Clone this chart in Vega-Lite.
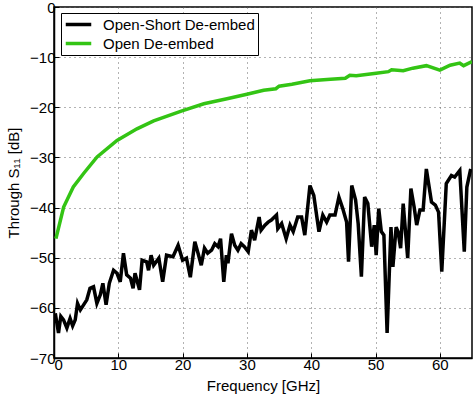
{
  "$schema": "https://vega.github.io/schema/vega-lite/v6.json",
  "width": 418,
  "height": 351,
  "autosize": {"type": "none"},
  "padding": {"left": 54, "top": 7, "right": 2, "bottom": 41},
  "background": "white",
  "config": {
    "font": "Liberation Sans",
    "view": {"stroke": "black", "strokeWidth": 1.5},
    "axis": {
      "grid": true, "gridColor": "#666", "gridDash": [1, 4], "gridWidth": 1,
      "domainColor": "black", "domainWidth": 1.5,
      "tickColor": "black", "tickSize": -5,
      "labelColor": "black", "labelFontSize": 15, "titleColor": "black",
      "titleFontSize": 15, "titleFontWeight": "normal"
    }
  },
  "datasets": {
    "pts": [
      {"f": 0.3, "s": -46.2, "series": "Open De-embed"},
      {"f": 1.5, "s": -39.9, "series": "Open De-embed"},
      {"f": 3.0, "s": -35.9, "series": "Open De-embed"},
      {"f": 4.6, "s": -33.2, "series": "Open De-embed"},
      {"f": 6.7, "s": -29.9, "series": "Open De-embed"},
      {"f": 9.8, "s": -26.6, "series": "Open De-embed"},
      {"f": 12.9, "s": -24.3, "series": "Open De-embed"},
      {"f": 15.5, "s": -22.7, "series": "Open De-embed"},
      {"f": 19.9, "s": -20.7, "series": "Open De-embed"},
      {"f": 23.3, "s": -19.3, "series": "Open De-embed"},
      {"f": 26.9, "s": -18.3, "series": "Open De-embed"},
      {"f": 30.0, "s": -17.4, "series": "Open De-embed"},
      {"f": 32.6, "s": -16.6, "series": "Open De-embed"},
      {"f": 34.5, "s": -16.3, "series": "Open De-embed"},
      {"f": 35.0, "s": -15.8, "series": "Open De-embed"},
      {"f": 37.0, "s": -15.4, "series": "Open De-embed"},
      {"f": 39.8, "s": -14.7, "series": "Open De-embed"},
      {"f": 43.0, "s": -14.4, "series": "Open De-embed"},
      {"f": 45.3, "s": -14.2, "series": "Open De-embed"},
      {"f": 46.0, "s": -13.6, "series": "Open De-embed"},
      {"f": 47.0, "s": -13.7, "series": "Open De-embed"},
      {"f": 50.1, "s": -13.2, "series": "Open De-embed"},
      {"f": 52.0, "s": -12.9, "series": "Open De-embed"},
      {"f": 52.5, "s": -12.5, "series": "Open De-embed"},
      {"f": 54.3, "s": -12.7, "series": "Open De-embed"},
      {"f": 55.8, "s": -12.2, "series": "Open De-embed"},
      {"f": 57.9, "s": -11.7, "series": "Open De-embed"},
      {"f": 60.0, "s": -12.6, "series": "Open De-embed"},
      {"f": 61.6, "s": -11.6, "series": "Open De-embed"},
      {"f": 63.1, "s": -11.2, "series": "Open De-embed"},
      {"f": 63.7, "s": -11.7, "series": "Open De-embed"},
      {"f": 65.0, "s": -10.9, "series": "Open De-embed"},

      {"f": 0.2, "s": -61.1, "series": "Open-Short De-embed"},
      {"f": 0.7, "s": -65.0, "series": "Open-Short De-embed"},
      {"f": 1.06, "s": -61.7, "series": "Open-Short De-embed"},
      {"f": 1.48, "s": -62.4, "series": "Open-Short De-embed"},
      {"f": 2.0, "s": -64.0, "series": "Open-Short De-embed"},
      {"f": 2.5, "s": -62.1, "series": "Open-Short De-embed"},
      {"f": 2.9, "s": -63.6, "series": "Open-Short De-embed"},
      {"f": 3.3, "s": -62.4, "series": "Open-Short De-embed"},
      {"f": 3.66, "s": -59.1, "series": "Open-Short De-embed"},
      {"f": 4.1, "s": -60.4, "series": "Open-Short De-embed"},
      {"f": 4.6, "s": -59.4, "series": "Open-Short De-embed"},
      {"f": 5.1, "s": -58.4, "series": "Open-Short De-embed"},
      {"f": 5.6, "s": -56.1, "series": "Open-Short De-embed"},
      {"f": 6.15, "s": -55.8, "series": "Open-Short De-embed"},
      {"f": 6.67, "s": -59.1, "series": "Open-Short De-embed"},
      {"f": 7.2, "s": -57.4, "series": "Open-Short De-embed"},
      {"f": 7.6, "s": -55.1, "series": "Open-Short De-embed"},
      {"f": 8.1, "s": -59.4, "series": "Open-Short De-embed"},
      {"f": 8.6, "s": -55.1, "series": "Open-Short De-embed"},
      {"f": 9.26, "s": -52.5, "series": "Open-Short De-embed"},
      {"f": 9.8, "s": -53.1, "series": "Open-Short De-embed"},
      {"f": 10.3, "s": -54.8, "series": "Open-Short De-embed"},
      {"f": 10.8, "s": -49.1, "series": "Open-Short De-embed"},
      {"f": 11.3, "s": -53.4, "series": "Open-Short De-embed"},
      {"f": 11.9, "s": -54.1, "series": "Open-Short De-embed"},
      {"f": 12.3, "s": -56.1, "series": "Open-Short De-embed"},
      {"f": 12.6, "s": -53.1, "series": "Open-Short De-embed"},
      {"f": 13.3, "s": -56.4, "series": "Open-Short De-embed"},
      {"f": 13.7, "s": -50.5, "series": "Open-Short De-embed"},
      {"f": 14.4, "s": -50.8, "series": "Open-Short De-embed"},
      {"f": 14.7, "s": -52.5, "series": "Open-Short De-embed"},
      {"f": 15.1, "s": -49.5, "series": "Open-Short De-embed"},
      {"f": 15.5, "s": -51.5, "series": "Open-Short De-embed"},
      {"f": 16.3, "s": -50.1, "series": "Open-Short De-embed"},
      {"f": 16.9, "s": -54.8, "series": "Open-Short De-embed"},
      {"f": 17.5, "s": -49.5, "series": "Open-Short De-embed"},
      {"f": 18.5, "s": -49.8, "series": "Open-Short De-embed"},
      {"f": 19.3, "s": -47.5, "series": "Open-Short De-embed"},
      {"f": 20.0, "s": -50.5, "series": "Open-Short De-embed"},
      {"f": 20.6, "s": -50.1, "series": "Open-Short De-embed"},
      {"f": 21.2, "s": -53.9, "series": "Open-Short De-embed"},
      {"f": 21.9, "s": -46.8, "series": "Open-Short De-embed"},
      {"f": 22.4, "s": -49.1, "series": "Open-Short De-embed"},
      {"f": 22.9, "s": -51.5, "series": "Open-Short De-embed"},
      {"f": 23.4, "s": -48.1, "series": "Open-Short De-embed"},
      {"f": 23.9, "s": -49.1, "series": "Open-Short De-embed"},
      {"f": 24.5, "s": -48.5, "series": "Open-Short De-embed"},
      {"f": 25.0, "s": -47.2, "series": "Open-Short De-embed"},
      {"f": 25.5, "s": -47.8, "series": "Open-Short De-embed"},
      {"f": 25.9, "s": -46.2, "series": "Open-Short De-embed"},
      {"f": 26.4, "s": -54.8, "series": "Open-Short De-embed"},
      {"f": 26.8, "s": -49.5, "series": "Open-Short De-embed"},
      {"f": 27.05, "s": -51.1, "series": "Open-Short De-embed"},
      {"f": 27.6, "s": -45.2, "series": "Open-Short De-embed"},
      {"f": 28.1, "s": -47.5, "series": "Open-Short De-embed"},
      {"f": 28.6, "s": -48.5, "series": "Open-Short De-embed"},
      {"f": 29.1, "s": -47.2, "series": "Open-Short De-embed"},
      {"f": 29.6, "s": -47.8, "series": "Open-Short De-embed"},
      {"f": 30.2, "s": -48.8, "series": "Open-Short De-embed"},
      {"f": 30.7, "s": -44.5, "series": "Open-Short De-embed"},
      {"f": 31.2, "s": -46.5, "series": "Open-Short De-embed"},
      {"f": 31.9, "s": -41.9, "series": "Open-Short De-embed"},
      {"f": 32.2, "s": -44.5, "series": "Open-Short De-embed"},
      {"f": 32.8, "s": -43.5, "series": "Open-Short De-embed"},
      {"f": 33.3, "s": -42.9, "series": "Open-Short De-embed"},
      {"f": 33.8, "s": -42.5, "series": "Open-Short De-embed"},
      {"f": 34.6, "s": -41.5, "series": "Open-Short De-embed"},
      {"f": 34.8, "s": -44.2, "series": "Open-Short De-embed"},
      {"f": 35.4, "s": -43.2, "series": "Open-Short De-embed"},
      {"f": 36.1, "s": -46.2, "series": "Open-Short De-embed"},
      {"f": 36.7, "s": -43.5, "series": "Open-Short De-embed"},
      {"f": 37.2, "s": -44.8, "series": "Open-Short De-embed"},
      {"f": 37.9, "s": -41.9, "series": "Open-Short De-embed"},
      {"f": 38.5, "s": -41.9, "series": "Open-Short De-embed"},
      {"f": 39.0, "s": -45.5, "series": "Open-Short De-embed"},
      {"f": 39.8, "s": -35.6, "series": "Open-Short De-embed"},
      {"f": 40.4, "s": -37.6, "series": "Open-Short De-embed"},
      {"f": 41.2, "s": -44.8, "series": "Open-Short De-embed"},
      {"f": 41.8, "s": -41.5, "series": "Open-Short De-embed"},
      {"f": 42.4, "s": -42.9, "series": "Open-Short De-embed"},
      {"f": 42.9, "s": -41.5, "series": "Open-Short De-embed"},
      {"f": 43.7, "s": -41.5, "series": "Open-Short De-embed"},
      {"f": 44.3, "s": -37.9, "series": "Open-Short De-embed"},
      {"f": 44.9, "s": -40.2, "series": "Open-Short De-embed"},
      {"f": 45.5, "s": -42.9, "series": "Open-Short De-embed"},
      {"f": 45.8, "s": -50.8, "series": "Open-Short De-embed"},
      {"f": 46.3, "s": -35.6, "series": "Open-Short De-embed"},
      {"f": 46.9, "s": -38.5, "series": "Open-Short De-embed"},
      {"f": 47.3, "s": -43.2, "series": "Open-Short De-embed"},
      {"f": 47.8, "s": -53.8, "series": "Open-Short De-embed"},
      {"f": 48.3, "s": -37.9, "series": "Open-Short De-embed"},
      {"f": 48.8, "s": -39.2, "series": "Open-Short De-embed"},
      {"f": 49.4, "s": -47.8, "series": "Open-Short De-embed"},
      {"f": 49.8, "s": -43.5, "series": "Open-Short De-embed"},
      {"f": 50.1, "s": -49.5, "series": "Open-Short De-embed"},
      {"f": 50.5, "s": -40.2, "series": "Open-Short De-embed"},
      {"f": 50.9, "s": -44.8, "series": "Open-Short De-embed"},
      {"f": 51.3, "s": -45.5, "series": "Open-Short De-embed"},
      {"f": 51.8, "s": -65.0, "series": "Open-Short De-embed"},
      {"f": 52.4, "s": -43.9, "series": "Open-Short De-embed"},
      {"f": 52.7, "s": -51.8, "series": "Open-Short De-embed"},
      {"f": 53.2, "s": -43.9, "series": "Open-Short De-embed"},
      {"f": 53.5, "s": -44.8, "series": "Open-Short De-embed"},
      {"f": 53.9, "s": -48.1, "series": "Open-Short De-embed"},
      {"f": 54.3, "s": -39.2, "series": "Open-Short De-embed"},
      {"f": 55.0, "s": -50.1, "series": "Open-Short De-embed"},
      {"f": 55.5, "s": -36.2, "series": "Open-Short De-embed"},
      {"f": 56.0, "s": -39.9, "series": "Open-Short De-embed"},
      {"f": 56.4, "s": -43.5, "series": "Open-Short De-embed"},
      {"f": 56.9, "s": -40.5, "series": "Open-Short De-embed"},
      {"f": 57.4, "s": -40.5, "series": "Open-Short De-embed"},
      {"f": 57.9, "s": -32.3, "series": "Open-Short De-embed"},
      {"f": 58.7, "s": -38.9, "series": "Open-Short De-embed"},
      {"f": 59.3, "s": -39.5, "series": "Open-Short De-embed"},
      {"f": 59.8, "s": -40.9, "series": "Open-Short De-embed"},
      {"f": 60.3, "s": -52.8, "series": "Open-Short De-embed"},
      {"f": 61.0, "s": -35.2, "series": "Open-Short De-embed"},
      {"f": 61.8, "s": -33.6, "series": "Open-Short De-embed"},
      {"f": 62.3, "s": -33.9, "series": "Open-Short De-embed"},
      {"f": 63.1, "s": -32.6, "series": "Open-Short De-embed"},
      {"f": 63.8, "s": -48.8, "series": "Open-Short De-embed"},
      {"f": 64.2, "s": -35.9, "series": "Open-Short De-embed"},
      {"f": 64.8, "s": -32.3, "series": "Open-Short De-embed"}
    ]
  },
  "data": {"name": "pts"},
  "mark": {"type": "line", "strokeWidth": 3.5, "clip": true, "strokeJoin": "miter"},
  "encoding": {
    "x": {
      "field": "f", "type": "quantitative",
      "scale": {"domain": [0, 65], "nice": false, "zero": false},
      "axis": {"values": [0, 10, 20, 30, 40, 50, 60], "title": "Frequency [GHz]", "titlePadding": 6, "labelPadding": 4}
    },
    "y": {
      "field": "s", "type": "quantitative",
      "scale": {"domain": [-70, 0], "nice": false},
      "axis": {"values": [-70, -60, -50, -40, -30, -20, -10, 0], "title": "Through S₁₁ [dB]", "titlePadding": 8, "labelPadding": 4}
    },
    "color": {
      "field": "series", "type": "nominal",
      "scale": {"domain": ["Open-Short De-embed", "Open De-embed"], "range": ["black", "#33c414"]},
      "legend": {
        "title": null, "orient": "none", "legendX": 7, "legendY": 6,
        "fillColor": "white", "strokeColor": "black", "padding": 3,
        "symbolType": "stroke", "symbolStrokeWidth": 3.5, "symbolSize": 650,
        "clipHeight": 17,
        "labelFontSize": 15, "labelColor": "black", "labelOffset": 10, "rowPadding": 2,
        "labelLimit": 300
      }
    },
    "order": {"field": "f", "type": "quantitative"}
  }
}
